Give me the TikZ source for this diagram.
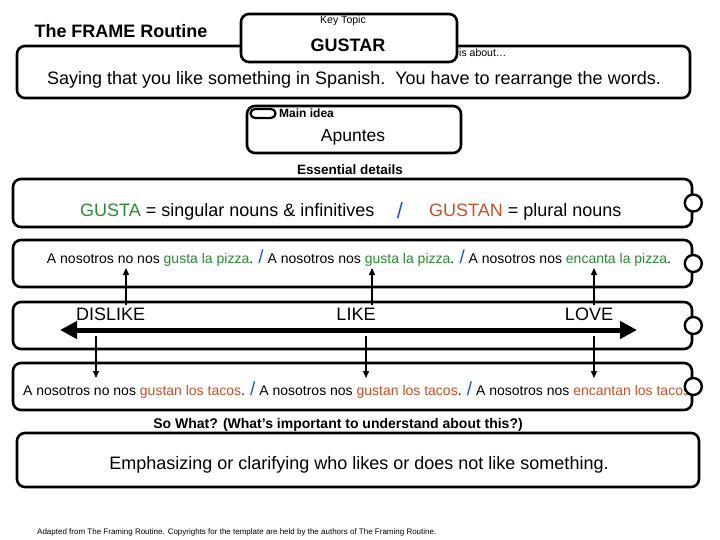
\documentclass[tikz,border=0pt]{standalone}
\usepackage{fontspec}
\setmainfont{Liberation Sans}
\usetikzlibrary{arrows.meta}
\definecolor{gGreen}{RGB}{40,140,50}
\definecolor{gOrange}{RGB}{200,80,40}
\definecolor{gBlue}{RGB}{30,90,190}
\newcommand{\fs}[1]{\fontsize{#1}{#1}\selectfont}
\newcommand{\sla}{{\color{gBlue}\fs{19}/}}
\tikzset{
  frame/.style={draw=black, line width=2.6pt, rounded corners=8pt, fill=white, inner sep=0pt},
  knob/.style={draw=black, line width=2.4pt, fill=white, circle, minimum size=17pt, inner sep=0pt},
  txt/.style={inner sep=0pt, text=black},
  thin arrow/.style={line width=1.4pt, -{Triangle[length=7pt,width=6pt]}},
}
\begin{document}
\begin{tikzpicture}[x=1pt,y=-1pt]
\useasboundingbox (0,0) rectangle (720,540);
% boxes
\node[frame, minimum width=673pt, minimum height=52pt] (about) at (353.5,72) {};
\node[frame, minimum width=216pt, minimum height=48pt] (topic) at (349,38) {};
\node[frame, minimum width=214pt, minimum height=47pt] (main) at (354,129.5) {};
\node[frame, line width=2.2pt, rounded corners=4.5pt, minimum width=25pt, minimum height=9pt] (pill) at (263,113.5) {};
\node[frame, minimum width=679pt, minimum height=48pt] (b1) at (352.5,203) {};
\node[frame, minimum width=679pt, minimum height=47pt] (b2) at (352.5,263.5) {};
\node[frame, minimum width=679pt, minimum height=47pt] (b3) at (352.5,325.5) {};
\node[frame, minimum width=679pt, minimum height=47pt] (b4) at (352.5,386.5) {};
\node[frame, minimum width=682pt, minimum height=54pt] (b5) at (358,460) {};
% texts
\node[txt, font=\bfseries\fs{18}] (title) at (121,31) {The FRAME Routine};
\node[txt, font=\fs{10.5}] (kt) at (343,21) {Key Topic};
\node[txt, font=\bfseries\fs{18}] (gustar) at (348,45) {GUSTAR};
\node[txt, font=\fs{10.5}, anchor=west] (isabout) at (459,53) {is about…};
\node[txt, font=\fs{18}] (saying) at (354,80) {Saying that you like something in Spanish.\ \ You have to rearrange the words.};
\node[txt, font=\bfseries\fs{12}, anchor=west] (mi) at (279,113) {Main idea};
\node[txt, font=\fs{17.5}] (apuntes) at (353,137) {Apuntes};
\node[txt, font=\bfseries\fs{13.5}] (ess) at (350,170) {Essential details};
\node[txt, font=\fs{18}, anchor=west] (gusta) at (80,212) {{\color{gGreen}GUSTA} = singular nouns \& infinitives};
\node[txt, font=\fs{22}] (sl1) at (400,211) {\color{gBlue}/};
\node[txt, font=\fs{18}, anchor=west] (gustan) at (429,212) {{\color{gOrange}GUSTAN} = plural nouns};
\node[txt, font=\fs{14}] (pizza) at (359,258) {A nosotros no nos {\color{gGreen}gusta la pizza}. \sla{} A nosotros nos {\color{gGreen}gusta la pizza}. \sla{} A nosotros nos {\color{gGreen}encanta la pizza}.};
\node[txt, font=\fs{18}, anchor=west] (dislike) at (76,314) {DISLIKE};
\node[txt, font=\fs{18}] (like) at (356,314) {LIKE};
\node[txt, font=\fs{18}] (love) at (589,314) {LOVE};
\node[txt, font=\fs{14}, anchor=west] (tacos) at (23,390) {A nosotros no nos {\color{gOrange}gustan los tacos}. \sla{} A nosotros nos {\color{gOrange}gustan los tacos}. \sla{} A nosotros nos {\color{gOrange}encantan los tacos}};
\node[txt, font=\bfseries\fs{14}] (sowhat) at (338,425) {So What? (What’s important to understand about this?)};
\node[txt, font=\fs{18}] (emph) at (359,465) {Emphasizing or clarifying who likes or does not like something.};
\node[txt, font=\fs{8}, anchor=west] (foot) at (37,532) {Adapted from The Framing Routine. Copyrights for the template are held by the authors of The Framing Routine.};
% knobs
\node[knob] (k1) at (b1.east) {};
\node[knob] (k2) at (b2.east) {};
\node[knob] (k3) at (b3.east) {};
\node[knob] (k4) at (b4.east) {};
% big arrow
\coordinate (L) at (60,330);
\coordinate (R) at (637,330);
\draw[line width=5pt, {Triangle[length=17pt,width=17pt]}-{Triangle[length=17pt,width=17pt]}] (L) -- (R);
% thin arrows
\coordinate (u1s) at (126,305); \coordinate (u1e) at (126,268);
\coordinate (u2s) at (372,305); \coordinate (u2e) at (372,268);
\coordinate (u3s) at (594,305); \coordinate (u3e) at (594,268);
\coordinate (d1s) at (96,336); \coordinate (d1e) at (96,378);
\coordinate (d2s) at (366,336); \coordinate (d2e) at (366,378);
\coordinate (d3s) at (594,336); \coordinate (d3e) at (594,378);
\foreach \a/\b in {u1s/u1e,u2s/u2e,u3s/u3e,d1s/d1e,d2s/d2e,d3s/d3e}
  \draw[thin arrow] (\a) -- (\b);
\end{tikzpicture}
\end{document}
